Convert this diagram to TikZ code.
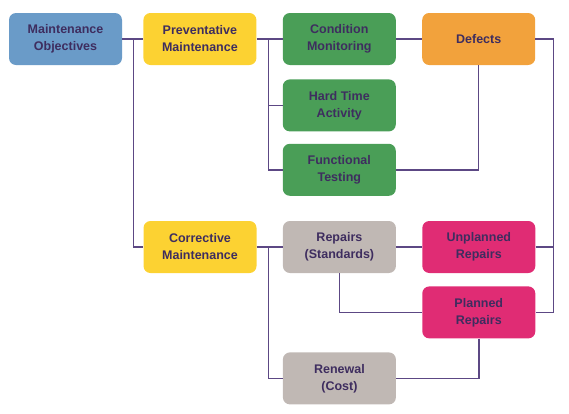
\documentclass[tikz,border=0pt]{standalone}
\usepackage{fontspec}
\setmainfont{Liberation Sans}
\usepackage{xcolor}
\usetikzlibrary{positioning}

\definecolor{objblue}{RGB}{106,155,200}
\definecolor{prevyellow}{RGB}{252,210,50}
\definecolor{taskgreen}{RGB}{74,158,87}
\definecolor{defectorange}{RGB}{242,162,60}
\definecolor{repairgrey}{RGB}{192,184,180}
\definecolor{repairpink}{RGB}{224,44,116}
\definecolor{labelpurple}{RGB}{62,45,95}
\definecolor{linkpurple}{RGB}{92,72,132}

\begin{document}
\begin{tikzpicture}[
    x=1pt, y=-1pt,
    node distance=14pt and 26pt,
    box/.style={rectangle, rounded corners=7pt, minimum width=113pt, minimum height=52pt, inner sep=2pt, font=\bfseries\fontsize{12.5}{17}\selectfont, text=labelpurple, align=center},
    link/.style={draw=linkpurple, line width=1.4pt}
]
    \useasboundingbox (0,0) rectangle (569,413);

    % Objectives (top left)
    \node[box, fill=objblue] (objectives) at (65.5,39) {Maintenance\\Objectives};

    % Preventative row
    \node[box, fill=prevyellow, right=21pt of objectives] (preventative) {Preventative\\Maintenance};
    \node[box, fill=taskgreen, right=of preventative] (condition) {Condition\\Monitoring};
    \node[box, fill=taskgreen, below=of condition] (hardtime) {Hard Time\\Activity};
    \node[box, fill=taskgreen, below=12pt of hardtime] (functional) {Functional\\Testing};
    \node[box, fill=defectorange, right=of condition] (defects) {Defects};

    % Corrective row
    \node[box, fill=prevyellow] (corrective) at (200,247) {Corrective\\Maintenance};
    \node[box, fill=repairgrey, right=of corrective] (repairs) {Repairs\\(Standards)};
    \node[box, fill=repairpink, right=of repairs] (unplanned) {Unplanned\\Repairs};
    \node[box, fill=repairpink, below=13pt of unplanned] (planned) {Planned\\Repairs};
    \node[box, fill=repairgrey, below=79pt of repairs] (renewal) {Renewal\\(Cost)};

    % Branch points
    \coordinate[right=11pt of objectives.east] (objtrunk);
    \coordinate[right=12pt of preventative.east] (prevtrunk);
    \coordinate[right=12pt of corrective.east] (corrtrunk);
    \coordinate[right=18pt of defects.east] (defecttrunk);

    % Objectives to both maintenance types
    \draw[link] (objectives) -- (preventative);
    \draw[link] (objtrunk) |- (corrective);

    % Preventative tasks
    \draw[link] (preventative) -- (condition);
    \draw[link] (prevtrunk) |- (hardtime);
    \draw[link] (prevtrunk) |- (functional);
    \draw[link] (condition) -- (defects);
    \draw[link] (defects.south) |- (functional.east);

    % Defects feed the repairs
    \draw[link] (defects) -- (defecttrunk) |- (planned.east);
    \draw[link] (unplanned.east) -- (unplanned.east -| defecttrunk);

    % Corrective tasks
    \draw[link] (corrective) -- (repairs);
    \draw[link] (corrtrunk) |- (renewal);
    \draw[link] (repairs) -- (unplanned);
    \draw[link] (repairs.south) |- (planned.west);
    \draw[link] (planned.south) |- (renewal.east);

\end{tikzpicture}
\end{document}
